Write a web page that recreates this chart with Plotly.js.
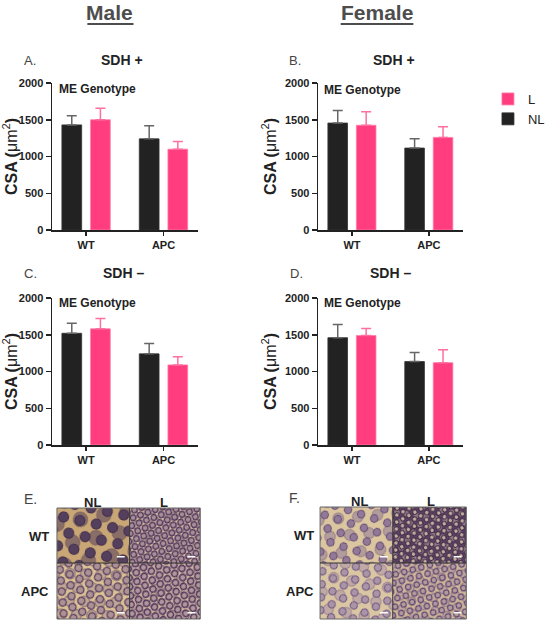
<!DOCTYPE html>
<html>
<head>
<meta charset="utf-8">
<script src="https://cdn.plot.ly/plotly-3.0.1.min.js"></script>
<style>html,body{margin:0;padding:0;background:#fff;}#chart{width:550px;height:626px;}</style>
</head>
<body>
<div id="chart"></div>
<script>
// ---- data ----
const categories = ['WT', 'APC'];
const seriesNames = ['NL', 'L'];
const maleSDHposNL = [1430, 1240];
const maleSDHposNLerr = [125, 180];
const maleSDHposL = [1500, 1100];
const maleSDHposLerr = [155, 105];
const femaleSDHposNL = [1455, 1115];
const femaleSDHposNLerr = [170, 125];
const femaleSDHposL = [1425, 1260];
const femaleSDHposLerr = [185, 145];
const maleSDHnegNL = [1520, 1240];
const maleSDHnegNLerr = [135, 140];
const maleSDHnegL = [1580, 1090];
const maleSDHnegLerr = [140, 110];
const femaleSDHnegNL = [1460, 1135];
const femaleSDHnegNLerr = [180, 125];
const femaleSDHnegL = [1490, 1120];
const femaleSDHnegLerr = [95, 175];
const yTicks = [0, 500, 1000, 1500, 2000];

// ---- styling ----
const W = 550, H = 626;
const FONT = 'Liberation Sans, Arial, sans-serif';
const PINK = '#ff3d7f', BLACK = '#222222';
const px = v => v / W;
const py = v => 1 - v / H;

function barTrace(name, vals, errs, axisIdx, showLegend) {
  const isL = name === 'L';
  return {
    type: 'bar', name: name, x: categories, y: vals,
    xaxis: 'x' + (axisIdx === 1 ? '' : axisIdx),
    yaxis: 'y' + (axisIdx === 1 ? '' : axisIdx),
    marker: {color: isL ? PINK : BLACK, line: {color: isL ? '#ff7fa8' : '#333333', width: 0.8}},
    error_y: {type: 'data', symmetric: false, array: errs, arrayminus: errs.map(() => 0),
              color: isL ? '#ff6f9f' : '#666666', thickness: 1.5, width: 5},
    legendgroup: name, showlegend: showLegend, hoverinfo: 'skip'
  };
}

const data = [
  barTrace('NL', maleSDHposNL, maleSDHposNLerr, 1, true),
  barTrace('L', maleSDHposL, maleSDHposLerr, 1, true),
  barTrace('NL', femaleSDHposNL, femaleSDHposNLerr, 2, false),
  barTrace('L', femaleSDHposL, femaleSDHposLerr, 2, false),
  barTrace('NL', maleSDHnegNL, maleSDHnegNLerr, 3, false),
  barTrace('L', maleSDHnegL, maleSDHnegLerr, 3, false),
  barTrace('NL', femaleSDHnegNL, femaleSDHnegNLerr, 4, false),
  barTrace('L', femaleSDHnegL, femaleSDHnegLerr, 4, false)
];

function xAx(x0, x1, anchor) {
  return {
    domain: [px(x0), px(x1)], anchor: anchor, type: 'category', range: [-0.44, 1.45],
    showline: true, linecolor: BLACK, linewidth: 1.5, ticks: 'outside', ticklen: 4,
    tickwidth: 1.5, tickcolor: BLACK, showgrid: false, zeroline: false, fixedrange: true,
    tickfont: {family: FONT, size: 11, color: BLACK, weight: 'bold'}
  };
}
function yAx(y0, y1, anchor) {
  return {
    domain: [py(y1), py(y0)], anchor: anchor, range: [0, 2000], tickvals: yTicks,
    showline: true, linecolor: BLACK, linewidth: 1.5, ticks: 'outside', ticklen: 5,
    tickwidth: 1.5, tickcolor: BLACK, showgrid: false, zeroline: false, fixedrange: true,
    tickfont: {family: FONT, size: 11, color: BLACK, weight: 'bold'},
    title: {text: '<b>CSA (</b>μm<sup>2</sup><b>)</b>', standoff: 4,
            font: {family: FONT, size: 16, color: BLACK}}
  };
}

// micrograph-like fills (decorative texture standing in for the photo panels)
function micro(w, h, bg, ink, fill, d, rf, sw, ang) {
  const pat = (id, dd, rot, op) => {
    const hh = dd * 1.732, r = dd * rf;
    const c = (cx, cy) => `<circle cx='${cx}' cy='${cy}' r='${r}' fill='${fill}' stroke='${ink}' stroke-width='${sw}' opacity='${op}'/>`;
    return `<pattern id='${id}' width='${dd}' height='${hh}' patternUnits='userSpaceOnUse' patternTransform='rotate(${rot})'>` +
      c(dd / 2, hh / 4) + c(0, hh * 0.75) + c(dd, hh * 0.75) + `</pattern>`;
  };
  const s = `<svg xmlns='http://www.w3.org/2000/svg' width='${w}' height='${h}' viewBox='0 0 ${w} ${h}' preserveAspectRatio='none'>` +
    `<defs>` + pat('p', d, ang, 1) + pat('q', d * 1.43, ang + 37, 0.55) + `</defs>` +
    `<rect width='${w}' height='${h}' fill='${bg}'/>` +
    `<rect width='${w}' height='${h}' fill='url(#q)'/>` +
    `<rect width='${w}' height='${h}' fill='url(#p)'/>` +
    `<rect x='${w - 13}' y='${h - 7}' width='8' height='1.5' fill='#ffffff'/>` +
    `</svg>`;
  return 'data:image/svg+xml;base64,' + btoa(s);
}

const quads = [
  // male (E)
  {x: 58, y: 508, w: 74, h: 55, src: micro(74, 55, '#c9a676', '#3f2c4a', '#54405c', 17, 0.3, 1, 12)},
  {x: 132, y: 508, w: 72, h: 55, src: micro(72, 55, '#d2b9a2', '#4a3055', '#a98f9a', 8, 0.36, 1.2, -20)},
  {x: 58, y: 563, w: 74, h: 56, src: micro(74, 56, '#dcc195', '#533a5e', '#ad9294', 11, 0.33, 1.3, 25)},
  {x: 132, y: 563, w: 72, h: 56, src: micro(72, 56, '#cdb39e', '#4a3055', '#b0969e', 9, 0.35, 1.3, -35)},
  // female (F)
  {x: 326, y: 507, w: 74, h: 56, src: micro(74, 56, '#dcc6a0', '#5e4570', '#927998', 14, 0.27, 1, 18)},
  {x: 400, y: 507, w: 75, h: 56, src: micro(75, 56, '#5e4562', '#3a2548', '#c5ae9e', 7, 0.33, 1, -28)},
  {x: 326, y: 563, w: 74, h: 56, src: micro(74, 56, '#dbc6a4', '#6a5280', '#ab94a6', 13, 0.28, 1.1, 33)},
  {x: 400, y: 563, w: 75, h: 56, src: micro(75, 56, '#cfb598', '#5a4270', '#b29a9e', 9, 0.31, 1.1, -15)}
];
const images = quads.map(q => ({
  source: q.src, xref: 'paper', yref: 'paper', x: px(q.x), y: py(q.y),
  sizex: q.w / W, sizey: q.h / H, xanchor: 'left', yanchor: 'top', sizing: 'stretch', layer: 'above'
}));

function ann(text, x, y, opts) {
  return Object.assign({
    text: text, xref: 'paper', yref: 'paper', x: px(x), y: py(y), showarrow: false,
    xanchor: 'center', yanchor: 'middle',
    font: {family: FONT, size: 13, color: BLACK}
  }, opts || {});
}
const bold = (size, color) => ({family: FONT, size: size, color: color || BLACK, weight: 'bold'});
const reg = (size, color) => ({family: FONT, size: size, color: color || '#444444'});

const annotations = [
  ann('Male', 112, 13, {font: bold(21, '#4d4d4d')}),
  ann('Female', 384, 13, {font: bold(21, '#4d4d4d')}),
  ann('A.', 22, 61, {xanchor: 'left', font: reg(13)}),
  ann('SDH +', 124, 60, {font: bold(14)}),
  ann('B.', 292, 61, {xanchor: 'left', font: reg(13)}),
  ann('SDH +', 401, 60, {font: bold(14)}),
  ann('C.', 22, 273, {xanchor: 'left', font: reg(13)}),
  ann('SDH –', 126, 273, {font: bold(14)}),
  ann('D.', 293, 273, {xanchor: 'left', font: reg(13)}),
  ann('SDH –', 398, 273, {font: bold(14)}),
  ann('ME Genotype', 58, 89, {xanchor: 'left', font: bold(12)}),
  ann('ME Genotype', 328, 90, {xanchor: 'left', font: bold(12)}),
  ann('ME Genotype', 58, 303, {xanchor: 'left', font: bold(12)}),
  ann('ME Genotype', 328, 303, {xanchor: 'left', font: bold(12)}),
  // photo panels
  ann('E.', 22, 499, {xanchor: 'left', font: reg(14)}),
  ann('NL', 94, 502, {font: bold(13)}),
  ann('L', 167, 502, {font: bold(13)}),
  ann('WT', 52, 536, {xanchor: 'right', font: bold(13)}),
  ann('APC', 52, 591, {xanchor: 'right', font: bold(13)}),
  ann('F.', 292, 498, {xanchor: 'left', font: reg(14)}),
  ann('NL', 366, 501, {font: bold(13)}),
  ann('L', 439, 501, {font: bold(13)}),
  ann('WT', 322, 535, {xanchor: 'right', font: bold(13)}),
  ann('APC', 322, 591, {xanchor: 'right', font: bold(13)})
];

const lineShape = (x0, y0, x1, y1, color, width) => ({
  type: 'line', xref: 'paper', yref: 'paper', x0: px(x0), y0: py(y0), x1: px(x1), y1: py(y1),
  line: {color: color, width: width}, layer: 'above'
});
const shapes = [
  lineShape(89, 24, 136, 24, '#4d4d4d', 2),
  lineShape(347, 24, 421, 24, '#4d4d4d', 2),
  // photo grid borders
  {type: 'rect', xref: 'paper', yref: 'paper', x0: px(58), y0: py(619), x1: px(204), y1: py(508), line: {color: '#666666', width: 1}, layer: 'above'},
  lineShape(132, 508, 132, 619, '#333333', 1),
  lineShape(58, 563, 204, 563, '#333333', 1),
  {type: 'rect', xref: 'paper', yref: 'paper', x0: px(326), y0: py(619), x1: px(475), y1: py(507), line: {color: '#666666', width: 1}, layer: 'above'},
  lineShape(400, 507, 400, 619, '#333333', 1),
  lineShape(326, 563, 475, 563, '#333333', 1)
];

const layout = {
  width: W, height: H, margin: {l: 0, r: 0, t: 0, b: 0},
  paper_bgcolor: '#ffffff', plot_bgcolor: '#ffffff',
  barmode: 'group', bargap: 0.26, bargroupgap: 0.31,
  font: {family: FONT, color: BLACK},
  showlegend: true,
  legend: {x: px(497), y: py(84), xanchor: 'left', yanchor: 'top', traceorder: 'reversed',
           font: {family: FONT, size: 13, color: BLACK}, bgcolor: 'rgba(0,0,0,0)', itemclick: false,
           itemdoubleclick: false},
  xaxis: xAx(53, 202, 'y'), yaxis: yAx(83, 230, 'x'),
  xaxis2: xAx(324, 472, 'y2'), yaxis2: yAx(83, 230, 'x2'),
  xaxis3: xAx(53, 202, 'y3'), yaxis3: yAx(298, 445, 'x3'),
  xaxis4: xAx(324, 472, 'y4'), yaxis4: yAx(298, 445, 'x4'),
  annotations: annotations, shapes: shapes, images: images
};

Plotly.newPlot('chart', data, layout, {displayModeBar: false, staticPlot: true});
</script>
</body>
</html>
